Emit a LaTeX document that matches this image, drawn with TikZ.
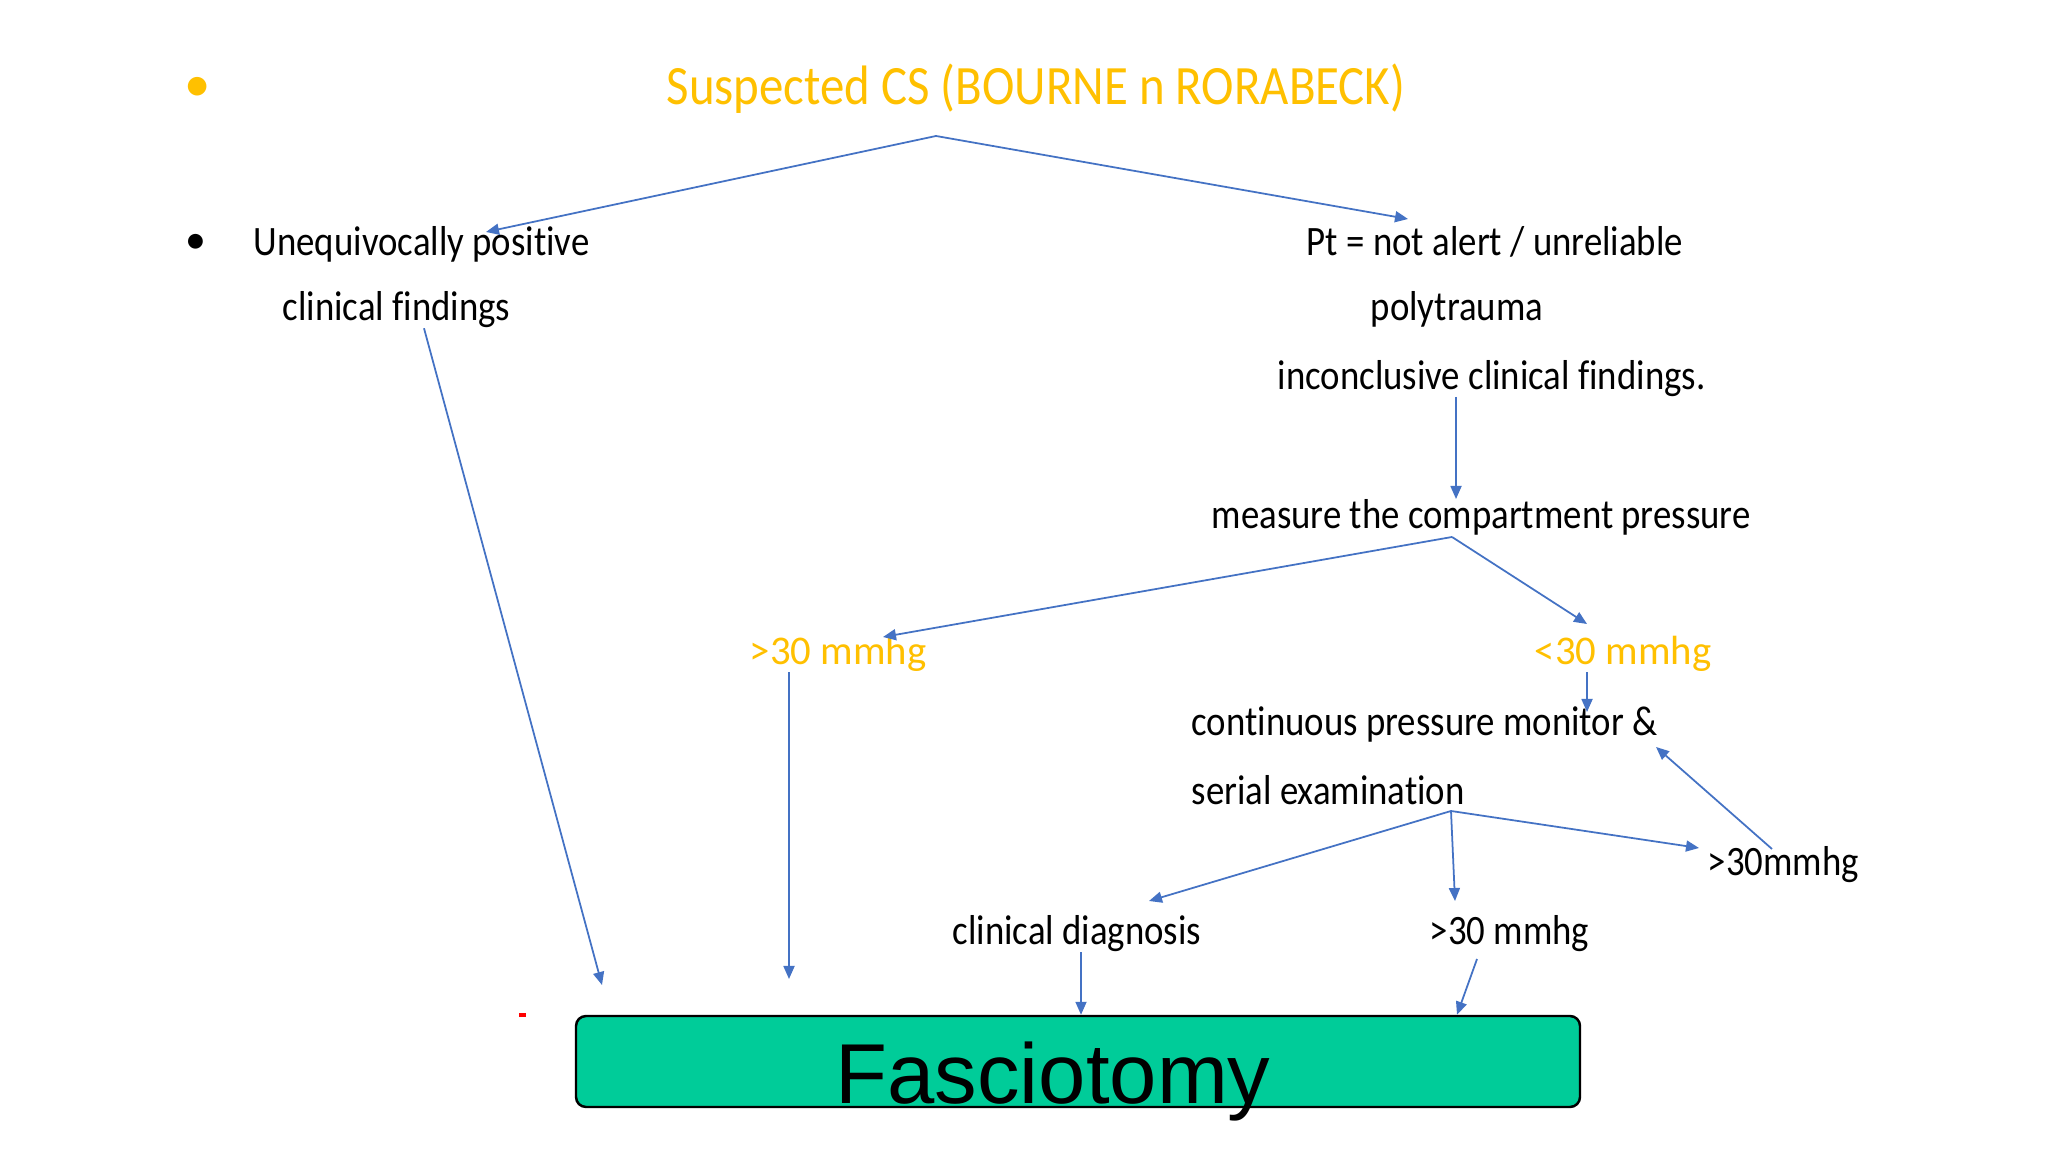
\documentclass[tikz,border=0pt]{standalone}
\usepackage{fontspec}
\usepackage{graphicx}
\setmainfont{Carlito}[Ligatures=NoCommon]
\newfontfamily\arialfont{Liberation Sans}
\usetikzlibrary{arrows.meta}
\definecolor{flowblue}{HTML}{4472C4}
\definecolor{gold}{HTML}{FFC000}
\definecolor{boxgreen}{HTML}{00CC99}
\newcommand{\sq}[1]{\scalebox{0.88}[1]{#1}}
\tikzset{
  body/.style={font=\fontsize{11.9}{14}\selectfont, inner sep=0pt, anchor=mid west},
  cut/.style={body, text=gold, font=\fontsize{11.6}{14}\selectfont},
  flow/.style={->, draw=flowblue, line width=0.5pt},
}
\begin{document}
\begin{tikzpicture}[x=0.1mm, y=-0.1mm, >={Triangle[length=1.3mm,width=1.1mm]}]
    \fill[white] (0,0) rectangle (2048,1152);
    % heading
    \node[text=gold, inner sep=0pt] (tdot) at (198,89) {\fontsize{15}{18}\selectfont\textbullet};
    \node[body, text=gold, font=\fontsize{15.8}{18}\selectfont] (title) at (666,96) {\sq{Suspected CS (BOURNE n RORABECK)}};
    \coordinate (tfork) at (936,136);
    % left branch
    \node[inner sep=0pt] (udot) at (196,244) {\fontsize{11.9}{14}\selectfont\textbullet};
    \node[body] (unequiv) at (253,247) {\sq{Unequivocally positive}};
    \node[body] (cfind) at (282,312) {\sq{clinical findings}};
    % right branch
    \node[body] (pt) at (1306,247) {\sq{Pt = not alert / unreliable}};
    \node[body] (poly) at (1370,312) {\sq{polytrauma}};
    \node[body] (incon) at (1277,381) {\sq{inconclusive clinical findings.}};
    \node[body] (measure) at (1211,520) {\sq{measure the compartment pressure}};
    \coordinate (mfork) at (1452,537);
    \node[cut] (high) at (749,656) {>30 mmhg};
    \node[cut] (low) at (1534,656) {<30 mmhg};
    \node[body] (monitor) at (1191,727) {\sq{continuous pressure monitor \&}};
    \node[body] (serial) at (1191,796) {\sq{serial examination}};
    \coordinate (sfork) at (1451,811);
    \node[body] (rise) at (1707,867) {\sq{>30mmhg}};
    \node[body] (cdiag) at (952,936) {\sq{clinical diagnosis}};
    \node[body] (high2) at (1429,936) {\sq{>30 mmhg}};
    % fasciotomy
    \node[draw=black, line width=0.7pt, fill=boxgreen, rounded corners=1mm,
          minimum width=100.4mm, minimum height=9.1mm, inner sep=0pt] (fbox) at (1078,1061.5) {};
    \node[inner sep=0pt, anchor=base, font=\arialfont\fontsize{24.2}{29}\selectfont] (fasc) at (1053,1104) {Fasciotomy};
    \fill[red] (519,1013) rectangle (526,1017);
    % arrows
    \draw[flow] (tfork) -- (486,232);
    \draw[flow] (tfork) -- (1408,219);
    \draw[flow] (cfind.south -| 424,0) -- (602,985);
    \draw[flow] (1456,397) -- (1456,499);
    \draw[flow] (mfork) -- (883,637);
    \draw[flow] (mfork) -- (1587,624);
    \draw[flow] (high.south -| 789,0) -- (789,979);
    \draw[flow] (low.south -| 1587,0) -- (1587,712);
    \draw[flow] (sfork) -- (1149,901);
    \draw[flow] (sfork) -- (1455,901);
    \draw[flow] (sfork) -- (1699,848);
    \draw[flow] (1772,849) -- (1656,747);
    \draw[flow] (cdiag.south -| 1081,0) -- (fbox.north -| 1081,0);
    \draw[flow] (1477,959) -- (fbox.north -| 1457,0);
\end{tikzpicture}
\end{document}
